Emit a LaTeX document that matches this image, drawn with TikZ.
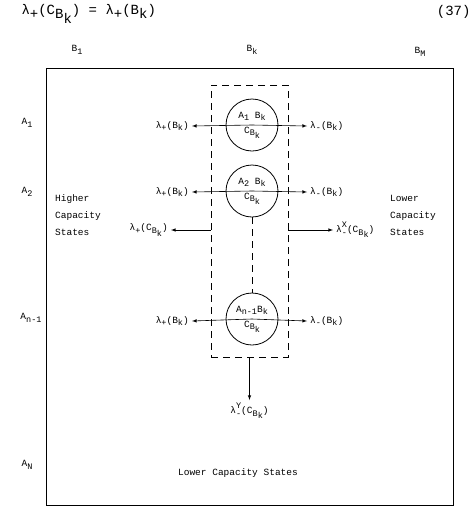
\documentclass[tikz,border=0pt]{standalone}
\usepackage{amsmath,amssymb}
\usepackage{fontspec}
\setmonofont{Liberation Mono}
\usetikzlibrary{arrows}

% lowered and raised indices in the typewriter face
\newcommand{\dn}[1]{\raisebox{-0.55ex}{\fontsize{8.5}{9}\selectfont #1}}
\newcommand{\up}[1]{\raisebox{0.9ex}{\fontsize{8.5}{9}\selectfont #1}}
\newcommand{\updn}[2]{\rlap{\up{#1}}\dn{#2}}

\tikzset{
  lab/.style  = {font=\ttfamily\fontsize{9.5}{17}\selectfont, inner sep=3pt},
  cell/.style = {draw, line width=0.8pt, circle, minimum size=52pt, inner sep=0pt, align=center,
                 font=\ttfamily\fontsize{9.5}{15}\selectfont},
  flow/.style = {->, >=latex, line width=0.6pt},
  cellbox/.style = {draw, line width=0.8pt, dash pattern=on 7pt off 5pt, minimum width=77pt,
                    minimum height=272pt, inner sep=0pt},
}

\begin{document}
\begin{tikzpicture}[x=1pt, y=-1pt]
    \useasboundingbox (0,0) rectangle (474,531);

    % Equation
    \node[anchor=west, font=\ttfamily\fontsize{14}{16}\selectfont] (eq) at (18,14)
        {λ\raisebox{-0.5ex}{+}(C\raisebox{-0.5ex}{B\raisebox{-0.7ex}{k}}) = λ\raisebox{-0.5ex}{+}(B\raisebox{-0.5ex}{k})};
    \node[anchor=east, font=\ttfamily\fontsize{14}{16}\selectfont] (eqno) at (474,12) {(37)};

    % Frame
    \draw[line width=0.8pt] (46,68) rectangle (453,505);

    % Column and row labels
    \node[lab] (b1) at (77,50)  {B\dn{1}};
    \node[lab] (bk) at (252,50) {B\dn{k}};
    \node[lab] (bm) at (420,52) {B\dn{M}};
    \node[lab] (a1) at (27,123) {A\dn{1}};
    \node[lab] (a2) at (27,192) {A\dn{2}};
    \node[lab] (an1) at (31,318) {A\dn{n-1}};
    \node[lab] (an) at (27,465) {A\dn{N}};

    % States
    \node[cellbox] (box) at (249.5,221) {};
    \node[cell] (c1) at (252,125) {A\dn{1} B\dn{k}\\C\dn{B\dn{k}}};
    \node[cell] (c2) at (252,191) {A\dn{2} B\dn{k}\\C\dn{B\dn{k}}};
    \node[cell] (cn) at (252,319) {A\dn{n-1}B\dn{k}\\C\dn{B\dn{k}}};
    \draw[line width=0.8pt, dash pattern=on 7pt off 5pt] (c2.south) -- (cn.north);

    % Rates
    \node[lab, anchor=east] (lp1) at (192,126) {λ\dn{+}(B\dn{k})};
    \node[lab, anchor=west] (lm1) at (307,126) {λ\dn{-}(B\dn{k})};
    \node[lab, anchor=east] (lp2) at (192,192) {λ\dn{+}(B\dn{k})};
    \node[lab, anchor=west] (lm2) at (307,192) {λ\dn{-}(B\dn{k})};
    \node[lab, anchor=east] (lpn) at (192,321) {λ\dn{+}(B\dn{k})};
    \node[lab, anchor=west] (lmn) at (307,321) {λ\dn{-}(B\dn{k})};
    \node[lab, anchor=east] (lpc) at (171,230) {λ\dn{+}(C\dn{B\dn{k}})};
    \node[lab, anchor=west] (lmx) at (333,230) {λ\updn{X}{-}(C\dn{B\dn{k}})};
    \node[lab, anchor=north] (lmy) at (249.5,400) {λ\updn{Y}{-}(C\dn{B\dn{k}})};

    % Edges
    \draw[flow] (c1.center) -- (lp1.east);
    \draw[flow] (c1.center) -- (lm1.west);
    \draw[flow] (c2.center) -- (lp2.east);
    \draw[flow] (c2.center) -- (lm2.west);
    \draw[flow] (cn.center) -- (lpn.east);
    \draw[flow] (cn.center) -- (lmn.west);
    \draw[flow] (box.west |- lpc.east) -- (lpc.east);
    \draw[flow] (box.east |- lmx.west) -- (lmx.west);
    \draw[flow] (box.south) -- (lmy.north);

    % Regions
    \node[lab, align=left, anchor=west] (hi) at (52,215) {Higher\\Capacity\\States};
    \node[lab, align=left, anchor=west] (lo) at (387,215) {Lower\\Capacity\\States};
    \node[lab] (lob) at (238,473) {Lower Capacity States};
\end{tikzpicture}
\end{document}
